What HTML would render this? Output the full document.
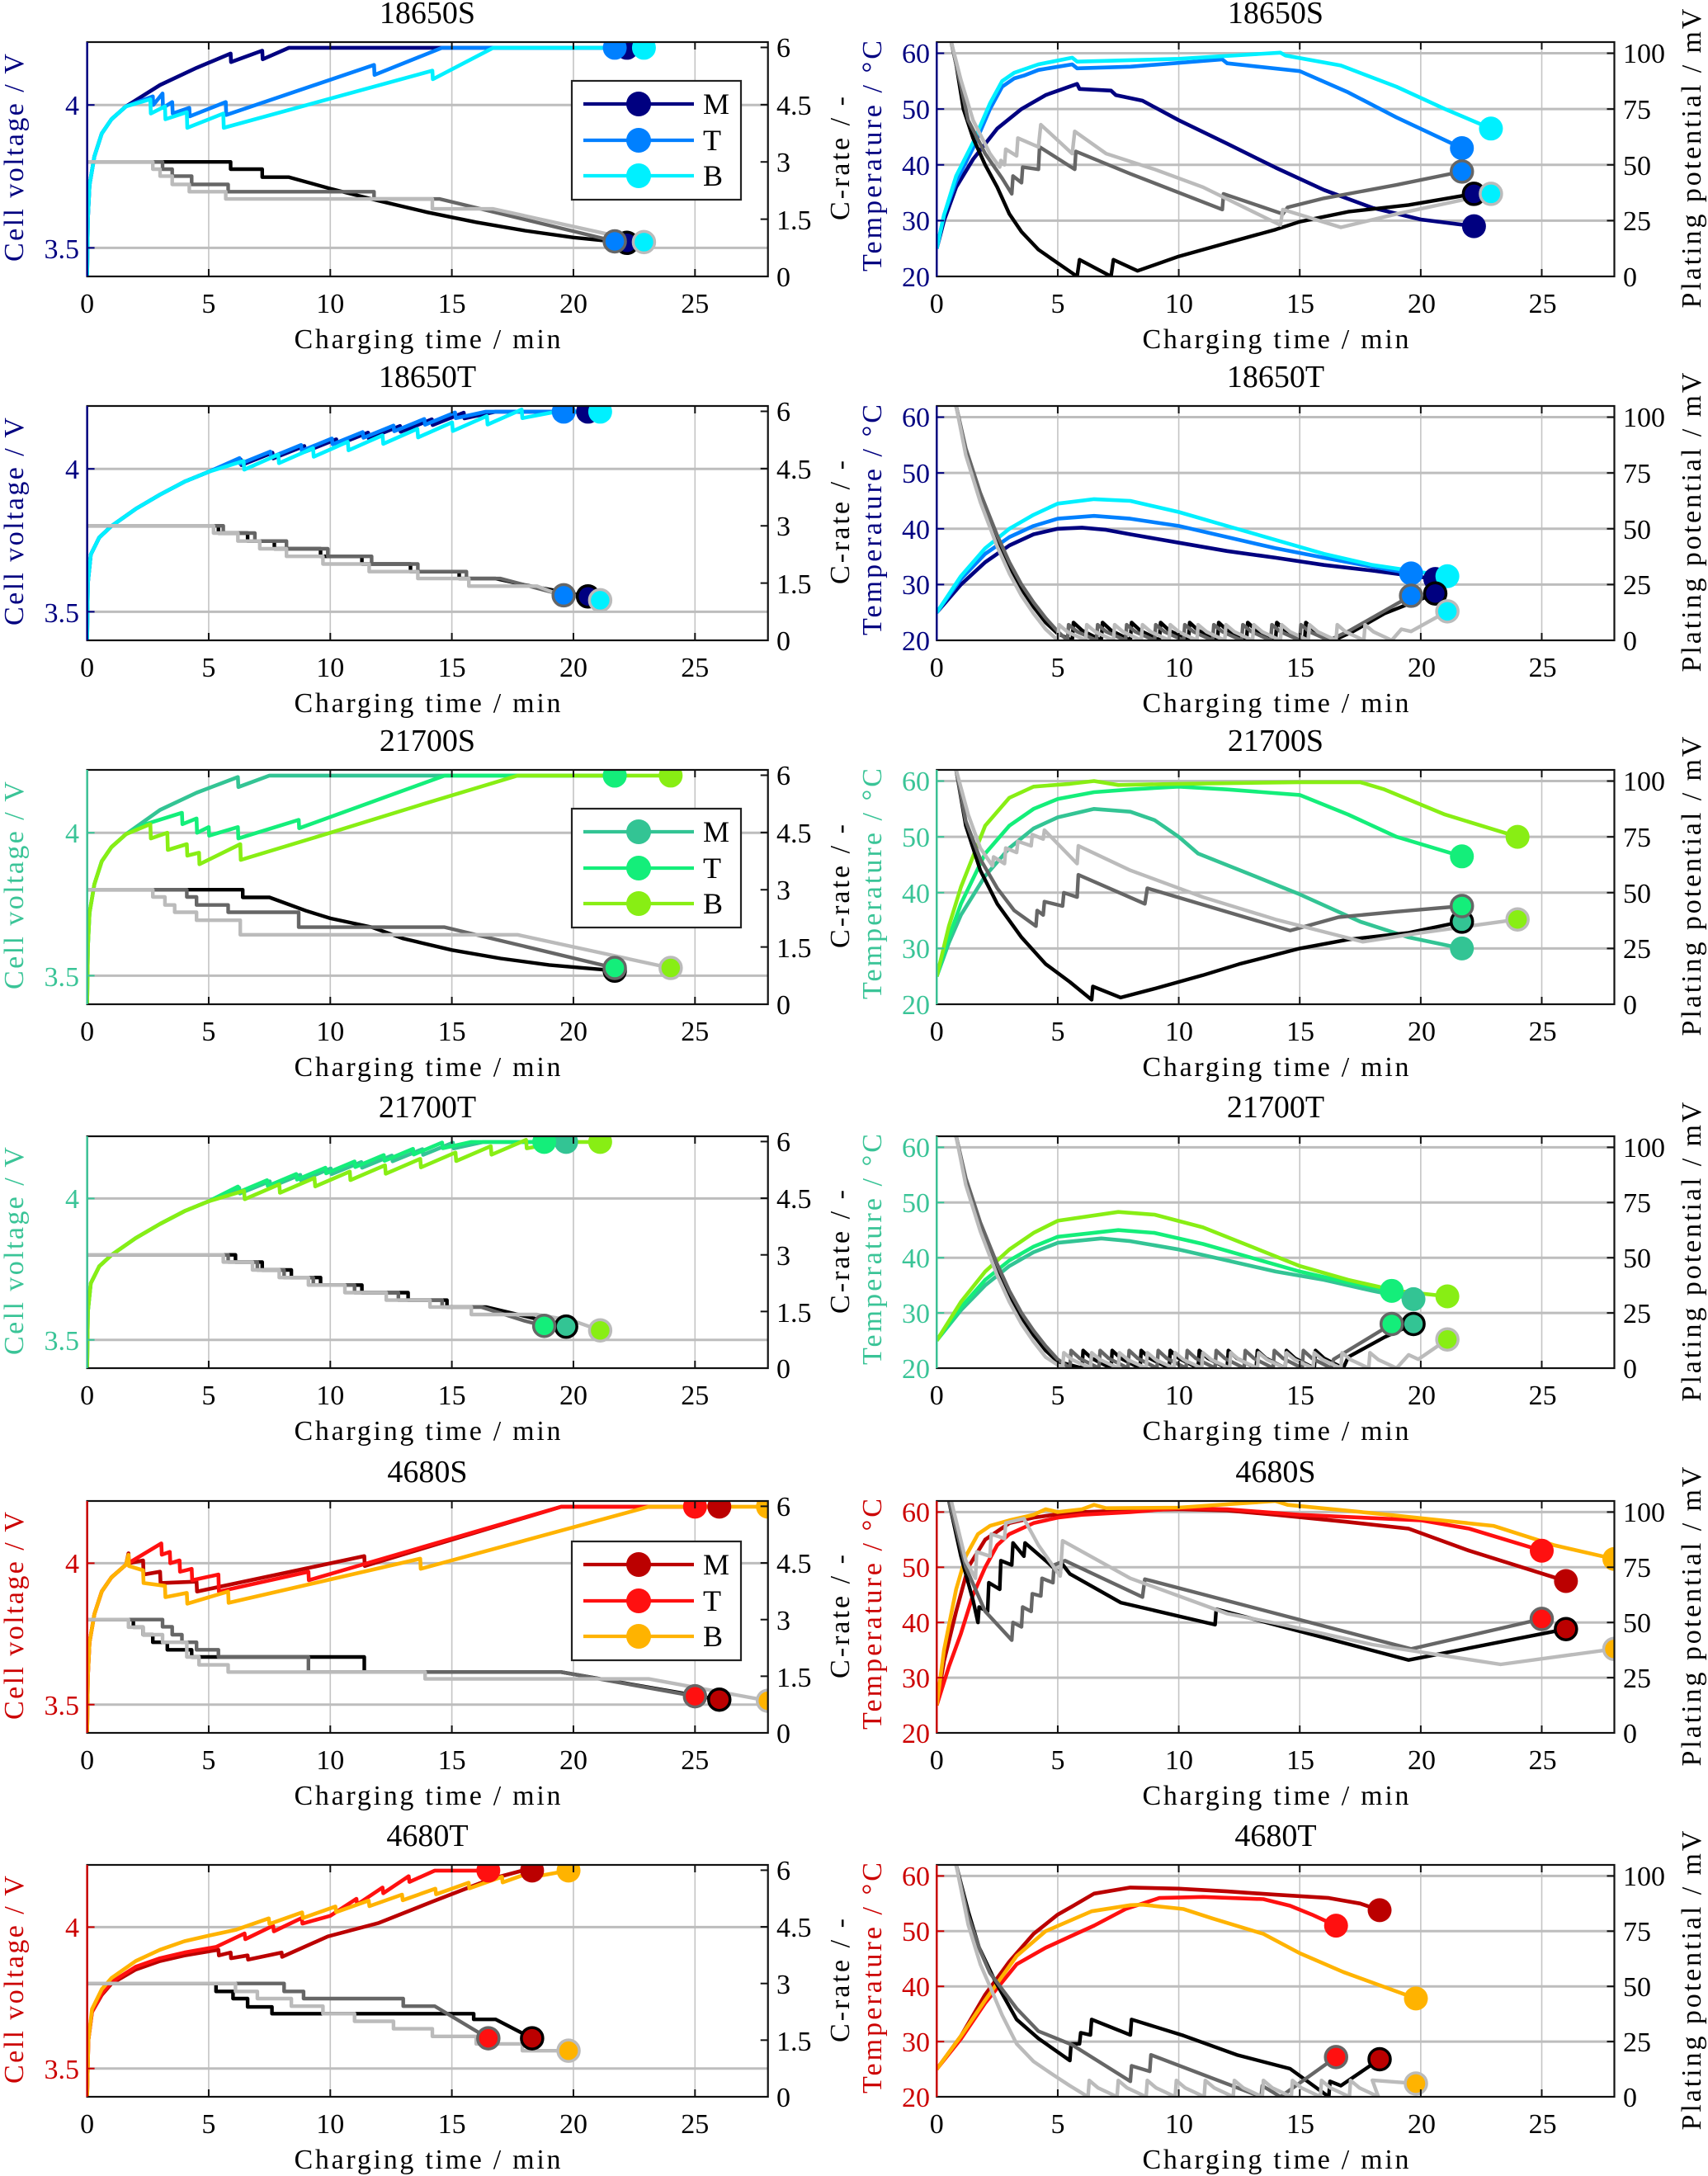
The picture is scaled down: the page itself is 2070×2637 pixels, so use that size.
<!DOCTYPE html>
<html><head><meta charset="utf-8">
<style>
html,body{margin:0;padding:0;background:#fff;}
svg{display:block;}
text{font-family:"Liberation Serif","DejaVu Serif",serif;font-size:34px;}
.ti{font-size:38px;text-anchor:middle;}
.m{text-anchor:middle;}
.e{text-anchor:end;}
.lg{font-size:36px;}
</style></head><body>
<svg id="S" xmlns="http://www.w3.org/2000/svg" width="2070" height="2637" viewBox="0 0 2070 2637">
<rect width="2070" height="2637" fill="#fff"/>
<g id="plot"></g>
<g id="txt">
<g transform="translate(0,51)">
<text class="ti" x="518" y="-23">18650S</text><text class="ti" x="1546" y="-23">18650S</text>
<g fill="#000080"><text class="e" x="96" y="88">4</text><text class="e" x="96" y="262">3.5</text>
<text class="m" transform="translate(28,140) rotate(-90)" textLength="252">Cell voltage / V</text>
<text class="e" x="1127" y="296">20</text><text class="e" x="1127" y="228">30</text><text class="e" x="1127" y="161">40</text><text class="e" x="1127" y="93">50</text><text class="e" x="1127" y="25">60</text>
<text class="m" transform="translate(1068,138) rotate(-90)" textLength="280">Temperature / °C</text></g>
<text x="941" y="296">0</text><text x="941" y="227">1.5</text><text x="941" y="157">3</text><text x="941" y="88">4.5</text><text x="941" y="18">6</text>
<text class="m" transform="translate(1029,141) rotate(-90)" textLength="150">C-rate / -</text>
<text x="1967" y="296">0</text><text x="1967" y="228">25</text><text x="1967" y="161">50</text><text x="1967" y="93">75</text><text x="1967" y="25">100</text>
<text class="m" transform="translate(2061,141) rotate(-90)" textLength="363">Plating potential / mV</text>
<text class="m" x="105.6" y="328">0</text><text class="m" x="252.9" y="328">5</text><text class="m" x="400.3" y="328">10</text><text class="m" x="547.6" y="328">15</text><text class="m" x="695" y="328">20</text><text class="m" x="842.3" y="328">25</text>
<text class="m" x="1135.3" y="328">0</text><text class="m" x="1282" y="328">5</text><text class="m" x="1429" y="328">10</text><text class="m" x="1576" y="328">15</text><text class="m" x="1723" y="328">20</text><text class="m" x="1869.6" y="328">25</text>
<text class="m" x="518" y="371" textLength="323">Charging time / min</text><text class="m" x="1546" y="371" textLength="323">Charging time / min</text>
<text class="lg" x="852" y="87">M</text><text class="lg" x="852" y="131">T</text><text class="lg" x="852" y="174">B</text>
</g>
<g transform="translate(0,492)">
<text class="ti" x="518" y="-23">18650T</text><text class="ti" x="1546" y="-23">18650T</text>
<g fill="#000080"><text class="e" x="96" y="88">4</text><text class="e" x="96" y="262">3.5</text>
<text class="m" transform="translate(28,140) rotate(-90)" textLength="252">Cell voltage / V</text>
<text class="e" x="1127" y="296">20</text><text class="e" x="1127" y="228">30</text><text class="e" x="1127" y="161">40</text><text class="e" x="1127" y="93">50</text><text class="e" x="1127" y="25">60</text>
<text class="m" transform="translate(1068,138) rotate(-90)" textLength="280">Temperature / °C</text></g>
<text x="941" y="296">0</text><text x="941" y="227">1.5</text><text x="941" y="157">3</text><text x="941" y="88">4.5</text><text x="941" y="18">6</text>
<text class="m" transform="translate(1029,141) rotate(-90)" textLength="150">C-rate / -</text>
<text x="1967" y="296">0</text><text x="1967" y="228">25</text><text x="1967" y="161">50</text><text x="1967" y="93">75</text><text x="1967" y="25">100</text>
<text class="m" transform="translate(2061,141) rotate(-90)" textLength="363">Plating potential / mV</text>
<text class="m" x="105.6" y="328">0</text><text class="m" x="252.9" y="328">5</text><text class="m" x="400.3" y="328">10</text><text class="m" x="547.6" y="328">15</text><text class="m" x="695" y="328">20</text><text class="m" x="842.3" y="328">25</text>
<text class="m" x="1135.3" y="328">0</text><text class="m" x="1282" y="328">5</text><text class="m" x="1429" y="328">10</text><text class="m" x="1576" y="328">15</text><text class="m" x="1723" y="328">20</text><text class="m" x="1869.6" y="328">25</text>
<text class="m" x="518" y="371" textLength="323">Charging time / min</text><text class="m" x="1546" y="371" textLength="323">Charging time / min</text>
</g>
<g transform="translate(0,933)">
<text class="ti" x="518" y="-23">21700S</text><text class="ti" x="1546" y="-23">21700S</text>
<g fill="#3ac497"><text class="e" x="96" y="88">4</text><text class="e" x="96" y="262">3.5</text>
<text class="m" transform="translate(28,140) rotate(-90)" textLength="252">Cell voltage / V</text>
<text class="e" x="1127" y="296">20</text><text class="e" x="1127" y="228">30</text><text class="e" x="1127" y="161">40</text><text class="e" x="1127" y="93">50</text><text class="e" x="1127" y="25">60</text>
<text class="m" transform="translate(1068,138) rotate(-90)" textLength="280">Temperature / °C</text></g>
<text x="941" y="296">0</text><text x="941" y="227">1.5</text><text x="941" y="157">3</text><text x="941" y="88">4.5</text><text x="941" y="18">6</text>
<text class="m" transform="translate(1029,141) rotate(-90)" textLength="150">C-rate / -</text>
<text x="1967" y="296">0</text><text x="1967" y="228">25</text><text x="1967" y="161">50</text><text x="1967" y="93">75</text><text x="1967" y="25">100</text>
<text class="m" transform="translate(2061,141) rotate(-90)" textLength="363">Plating potential / mV</text>
<text class="m" x="105.6" y="328">0</text><text class="m" x="252.9" y="328">5</text><text class="m" x="400.3" y="328">10</text><text class="m" x="547.6" y="328">15</text><text class="m" x="695" y="328">20</text><text class="m" x="842.3" y="328">25</text>
<text class="m" x="1135.3" y="328">0</text><text class="m" x="1282" y="328">5</text><text class="m" x="1429" y="328">10</text><text class="m" x="1576" y="328">15</text><text class="m" x="1723" y="328">20</text><text class="m" x="1869.6" y="328">25</text>
<text class="m" x="518" y="371" textLength="323">Charging time / min</text><text class="m" x="1546" y="371" textLength="323">Charging time / min</text>
<text class="lg" x="852" y="87">M</text><text class="lg" x="852" y="131">T</text><text class="lg" x="852" y="174">B</text>
</g>
<g transform="translate(0,1377)">
<text class="ti" x="518" y="-23">21700T</text><text class="ti" x="1546" y="-23">21700T</text>
<g fill="#3ac497"><text class="e" x="96" y="87">4</text><text class="e" x="96" y="259">3.5</text>
<text class="m" transform="translate(28,139) rotate(-90)" textLength="252">Cell voltage / V</text>
<text class="e" x="1127" y="293">20</text><text class="e" x="1127" y="226">30</text><text class="e" x="1127" y="159">40</text><text class="e" x="1127" y="92">50</text><text class="e" x="1127" y="25">60</text>
<text class="m" transform="translate(1068,137) rotate(-90)" textLength="280">Temperature / °C</text></g>
<text x="941" y="293">0</text><text x="941" y="225">1.5</text><text x="941" y="156">3</text><text x="941" y="87">4.5</text><text x="941" y="18">6</text>
<text class="m" transform="translate(1029,140) rotate(-90)" textLength="150">C-rate / -</text>
<text x="1967" y="293">0</text><text x="1967" y="226">25</text><text x="1967" y="159">50</text><text x="1967" y="92">75</text><text x="1967" y="25">100</text>
<text class="m" transform="translate(2061,140) rotate(-90)" textLength="363">Plating potential / mV</text>
<text class="m" x="105.6" y="325">0</text><text class="m" x="252.9" y="325">5</text><text class="m" x="400.3" y="325">10</text><text class="m" x="547.6" y="325">15</text><text class="m" x="695" y="325">20</text><text class="m" x="842.3" y="325">25</text>
<text class="m" x="1135.3" y="325">0</text><text class="m" x="1282" y="325">5</text><text class="m" x="1429" y="325">10</text><text class="m" x="1576" y="325">15</text><text class="m" x="1723" y="325">20</text><text class="m" x="1869.6" y="325">25</text>
<text class="m" x="518" y="368" textLength="323">Charging time / min</text><text class="m" x="1546" y="368" textLength="323">Charging time / min</text>
</g>
<g transform="translate(0,1819)">
<text class="ti" x="518" y="-23">4680S</text><text class="ti" x="1546" y="-23">4680S</text>
<g fill="#cc0000"><text class="e" x="96" y="87">4</text><text class="e" x="96" y="259">3.5</text>
<text class="m" transform="translate(28,139) rotate(-90)" textLength="252">Cell voltage / V</text>
<text class="e" x="1127" y="293">20</text><text class="e" x="1127" y="226">30</text><text class="e" x="1127" y="159">40</text><text class="e" x="1127" y="92">50</text><text class="e" x="1127" y="25">60</text>
<text class="m" transform="translate(1068,137) rotate(-90)" textLength="280">Temperature / °C</text></g>
<text x="941" y="293">0</text><text x="941" y="225">1.5</text><text x="941" y="156">3</text><text x="941" y="87">4.5</text><text x="941" y="18">6</text>
<text class="m" transform="translate(1029,140) rotate(-90)" textLength="150">C-rate / -</text>
<text x="1967" y="293">0</text><text x="1967" y="226">25</text><text x="1967" y="159">50</text><text x="1967" y="92">75</text><text x="1967" y="25">100</text>
<text class="m" transform="translate(2061,140) rotate(-90)" textLength="363">Plating potential / mV</text>
<text class="m" x="105.6" y="325">0</text><text class="m" x="252.9" y="325">5</text><text class="m" x="400.3" y="325">10</text><text class="m" x="547.6" y="325">15</text><text class="m" x="695" y="325">20</text><text class="m" x="842.3" y="325">25</text>
<text class="m" x="1135.3" y="325">0</text><text class="m" x="1282" y="325">5</text><text class="m" x="1429" y="325">10</text><text class="m" x="1576" y="325">15</text><text class="m" x="1723" y="325">20</text><text class="m" x="1869.6" y="325">25</text>
<text class="m" x="518" y="368" textLength="323">Charging time / min</text><text class="m" x="1546" y="368" textLength="323">Charging time / min</text>
<text class="lg" x="852" y="89">M</text><text class="lg" x="852" y="133">T</text><text class="lg" x="852" y="176">B</text>
</g>
<g transform="translate(0,2260)">
<text class="ti" x="518" y="-23">4680T</text><text class="ti" x="1546" y="-23">4680T</text>
<g fill="#cc0000"><text class="e" x="96" y="87">4</text><text class="e" x="96" y="259">3.5</text>
<text class="m" transform="translate(28,139) rotate(-90)" textLength="252">Cell voltage / V</text>
<text class="e" x="1127" y="293">20</text><text class="e" x="1127" y="226">30</text><text class="e" x="1127" y="159">40</text><text class="e" x="1127" y="92">50</text><text class="e" x="1127" y="25">60</text>
<text class="m" transform="translate(1068,137) rotate(-90)" textLength="280">Temperature / °C</text></g>
<text x="941" y="293">0</text><text x="941" y="225">1.5</text><text x="941" y="156">3</text><text x="941" y="87">4.5</text><text x="941" y="18">6</text>
<text class="m" transform="translate(1029,140) rotate(-90)" textLength="150">C-rate / -</text>
<text x="1967" y="293">0</text><text x="1967" y="226">25</text><text x="1967" y="159">50</text><text x="1967" y="92">75</text><text x="1967" y="25">100</text>
<text class="m" transform="translate(2061,140) rotate(-90)" textLength="363">Plating potential / mV</text>
<text class="m" x="105.6" y="325">0</text><text class="m" x="252.9" y="325">5</text><text class="m" x="400.3" y="325">10</text><text class="m" x="547.6" y="325">15</text><text class="m" x="695" y="325">20</text><text class="m" x="842.3" y="325">25</text>
<text class="m" x="1135.3" y="325">0</text><text class="m" x="1282" y="325">5</text><text class="m" x="1429" y="325">10</text><text class="m" x="1576" y="325">15</text><text class="m" x="1723" y="325">20</text><text class="m" x="1869.6" y="325">25</text>
<text class="m" x="518" y="368" textLength="323">Charging time / min</text><text class="m" x="1546" y="368" textLength="323">Charging time / min</text>
</g>
</g>
</svg>
<script>
(function(){
var TOP=[51,492,933,1377,1819,2260],HT=[284,284,284,281,281,281];
var X0=[105.6,1135.3],X1=[930.7,1956.5];
var LAB=['#000080','#000080','#3ac497','#3ac497','#cc0000','#cc0000'];
var COLS=[['#000080','#0080ff','#00f0ff'],['#000080','#0080ff','#00f0ff'],['#33c494','#14ee7a','#88ee14'],['#33c494','#14ee7a','#88ee14'],['#bb0000','#ff1010','#ffb300'],['#bb0000','#ff1010','#ffb300']];
var GR=['#000','#666','#bbb'];
function st(lv,tE){var p=[[lv[0][0],lv[0][1]]];for(var i=1;i<lv.length;i++){p.push([lv[i][0],lv[i-1][1]],[lv[i][0],lv[i][1]]);}p.push([tE,lv[lv.length-1][1]]);return p;}
function vs(t0,v0,t1,v1,n,d){var p=[];for(var i=1;i<=n;i++){var t=t0+i*(t1-t0)/n,v=v0+i*(v1-v0)/n;if(i<n)p.push([t,v+d],[t+0.03,v]);else p.push([t,v]);}return p;}
function ps(t0,t1,per,h){var p=[],t=t0;while(t<t1-0.3){p.push([t,0],[t+0.05,h],[t+0.05+per*0.3,h*0.55]);t+=per;}p.push([t,0]);return p;}
function c(){var a=[];for(var i=0;i<arguments.length;i++)a=a.concat(arguments[i]);return a;}
var iS=[[0,3.4],[0.03,3.6],[0.1,3.72],[0.3,3.82],[0.6,3.9],[1,3.95],[1.6,3.995]];
var iT=[[0,3.4],[0.03,3.6],[0.15,3.7],[0.5,3.76],[1,3.8],[2,3.86],[3,3.91],[4,3.955],[5,3.99]];
var D=[];
D[0]={V:[c(iS,[[3,4.07],[4.5,4.13],[5.9,4.18],[5.92,4.15],[7.2,4.19],[7.22,4.16],[8.3,4.2],[22.2,4.2]]),
c(iS,[[2.7,4.03],[2.72,4.0],[3.1,4.04],[3.12,3.99],[3.5,4.01],[3.52,3.97],[4.2,3.99],[4.22,3.96],[5.7,4.01],[5.72,3.965],[11.8,4.14],[11.82,4.105],[14.6,4.2],[21.7,4.2]]),
c(iS,[[2.6,4.02],[2.62,3.97],[3.2,3.995],[3.22,3.95],[4.1,3.975],[4.12,3.92],[5.6,3.97],[5.62,3.92],[14.2,4.12],[14.22,4.09],[16.7,4.2],[22.9,4.2]])],
C:[c(st([[0,3],[5.9,2.81],[7.2,2.6]],8.3),[[10,2.3],[12,1.98],[14,1.68],[16,1.42],[18,1.2],[20,1.02],[22.2,0.88]]),
c(st([[0,3],[3.1,2.81],[3.5,2.63],[4.3,2.41],[5.8,2.22],[11.8,2.03]],14.5),[[21.7,0.92]]),
c(st([[0,3],[2.7,2.81],[3.0,2.63],[3.5,2.41],[4.2,2.22],[5.7,2.03],[14.2,1.77]],16.7),[[22.9,0.9]])],
T:[[[0,25],[0.3,30],[0.8,36],[1.5,41],[2.5,46.5],[3.5,50],[4.5,52.5],[5.8,54.5],[5.9,53.6],[7.2,53.3],[7.4,52.5],[8.5,51.5],[10,48],[12,43.8],[14,39.5],[16,35.5],[18,32.3],[20,30.2],[22.2,29]],
[[0,25],[0.3,31],[0.8,37],[1.5,43],[2.2,50],[2.7,54],[3.2,55.5],[3.6,56],[4.2,57],[5.6,58],[5.8,57.3],[8,57.6],[11.8,58.9],[12,58.2],[15,56.8],[17,53],[19,48.5],[21.7,43]],
[[0,25],[0.3,31],[0.8,38],[1.5,44],[2.2,51],[2.7,55],[3.2,56.5],[4.2,58],[5.6,59.2],[5.8,58.5],[10,59],[14.2,60.1],[14.4,59.6],[16.7,57.8],[19,54],[21,50],[22.9,46.5]]],
P:[[[0.6,105],[0.8,95],[1.1,75],[1.5,62],[2,50],[2.5,40],[3,28],[3.5,20],[4.2,12],[5,6],[5.8,0],[5.9,7.5],[7.2,0],[7.3,7.5],[8.3,2.5],[10,9],[12,15],[14,21],[15,24.5],[17,29],[19.5,32],[22.2,37]],
[[0.6,105],[0.9,90],[1.3,70],[2,55],[2.7,44],[3.1,37],[3.15,45],[3.5,42],[3.55,49],[4.2,48],[4.25,58],[5.7,48],[5.75,56],[8,46],[11.8,30],[11.85,37],[14.3,28],[14.5,31],[16,35],[19,41],[21.7,47]],
[[0.6,105],[1,88],[1.5,70],[2.2,55],[2.6,49],[2.65,52],[2.8,50],[2.85,57],[3.3,54],[3.35,62],[4.2,58],[4.3,68],[5.6,55],[5.7,65],[7,55],[9,48],[11,40],[14.2,23],[14.3,30],[16.7,22],[19,28],[22.9,37]]]};
D[1]={V:[c(iT,vs(5,3.99,16.8,4.2,9,0.02),[[20.6,4.2]]),c(iT,vs(5,3.995,16.4,4.2,9,0.02),[[19.6,4.2]]),c(iT,vs(5,3.975,19.3,4.2,10,0.03),[[21.1,4.2]])],
C:[c(st([[0,3],[5.4,2.81],[6.6,2.6],[7.7,2.4],[9.6,2.2],[11.3,2.0],[13.3,1.8],[15.3,1.62]],16.8),[[18,1.45],[20.6,1.15]]),
c(st([[0,3],[5.6,2.81],[6.9,2.6],[8.2,2.4],[9.9,2.2],[11.7,2.0],[13.6,1.8],[15.6,1.62]],17),[[19.6,1.18]]),
c(st([[0,3],[5.2,2.81],[6.2,2.6],[7.1,2.4],[8.2,2.2],[9.7,2.0],[11.6,1.8],[13.6,1.62],[15.7,1.42]],18.5),[[19.2,1.25],[21.1,1.05]])],
T:[[[0,25],[1,30],[2,34],[3,37],[4,39],[5,40],[6,40.2],[7,39.8],[8,39],[10,37.5],[12,36],[14,34.8],[16,33.5],[18,32.5],[20.6,31]],
[[0,25],[1,31],[2,35.5],[3,38.5],[4,40.5],[5,41.8],[6.5,42.3],[8,41.8],[10,40.5],[12,38.5],[14,36.5],[16,34.8],[18,33.2],[19.6,32]],
[[0,25],[1,31.5],[2,36.5],[3,40],[4,42.5],[5,44.5],[6.5,45.3],[8,45],[10,43],[12,40.5],[14,38],[16,35.5],[18,33.5],[21.1,31.5]]],
P:[c([[0.8,105],[1.2,85],[1.8,65],[2.5,45],[3,33],[3.5,23],[4,15],[4.5,8],[5,3],[5.6,0]],ps(5.6,16.4,1.2,8),[[17.2,4],[18.5,12],[20.6,21]]),
c([[0.8,105],[1.2,86],[1.8,66],[2.5,47],[3,35],[3.5,25],[4,17],[4.5,10],[5,4],[5.4,0]],ps(5.4,15.6,1.2,7),[[17,4],[19.6,20]]),
c([[0.8,105],[1.2,83],[1.8,62],[2.5,42],[3,30],[3.5,20],[4,12],[4.5,5],[5,0]],ps(5,18.5,1.15,7),[[19.2,5],[19.6,4],[21.1,13]])]};
D[2]={V:[c(iS,[[3,4.08],[4.5,4.14],[6.2,4.195],[6.22,4.16],[7.5,4.2],[21.7,4.2]]),
c(iS,[[2.4,4.03],[3.9,4.07],[3.92,4.03],[4.5,4.05],[4.52,4.0],[5,4.02],[5.02,3.99],[6.2,4.02],[6.22,3.98],[8.7,4.045],[8.72,4.016],[14.7,4.2],[21.7,4.2]]),
c(iS,[[2.6,4.03],[2.62,3.98],[3.3,4.0],[3.32,3.94],[4.1,3.96],[4.12,3.92],[4.6,3.93],[4.62,3.89],[6.3,3.96],[6.32,3.905],[10,4.0],[13.8,4.1],[17.7,4.2],[24,4.2]])],
C:[c(st([[0,3],[6.4,2.8]],7.5),[[9,2.45],[10,2.25],[11.7,2.02],[13,1.72],[15,1.42],[17,1.2],[19,1.03],[21.7,0.88]]),
c(st([[0,3],[4.1,2.81],[4.5,2.6],[5.8,2.41],[8.7,2.02]],14.7),[[21.7,0.95]]),
c(st([[0,3],[2.7,2.81],[3.2,2.6],[3.6,2.41],[4.5,2.2],[6.3,1.82]],17.7),[[24,0.95]])],
T:[[[0,25],[0.5,31],[1,36],[2,43],[3,48],[4,51.5],[5,53.5],[6.5,55],[8,54.5],[9,53],[10,50],[10.8,47],[13,43.2],[15,39.7],[17.5,34.8],[19.5,32],[21.7,30]],
[[0,25],[0.5,32],[1,38],[2,47],[3,52],[4,55],[5,56.8],[6.5,58],[8,58.5],[10,59],[12,58.5],[15,57.5],[17,54],[19,50],[21.7,46.5]],
[[0,25],[0.5,34],[1,41],[2,52],[3,57],[4,59],[5.5,59.5],[6.5,60],[7.5,59.3],[10,59.5],[15,59.8],[17.5,59.8],[18.5,58.5],[21,54],[24,50]]],
P:[[[0.8,105],[1.2,80],[1.8,60],[2.5,45],[3.5,30],[4.5,18],[5.5,10],[6.4,2],[6.45,8],[7.6,3],[9,7],[11,13],[12.5,18],[15,25],[17,29],[19.5,32],[21.7,37]],
[[0.8,105],[1.2,82],[1.8,65],[2.5,52],[3.2,42],[4.1,35],[4.15,42],[4.4,40],[4.45,46],[5.2,44],[5.25,50],[5.8,48],[5.85,58],[8.6,45],[8.7,52],[14.6,33],[16.6,39],[19,41.5],[21.7,44]],
[[0.8,105],[1.3,85],[1.8,70],[2.3,62],[2.35,66],[2.8,63],[2.85,70],[3.3,68],[3.35,73],[3.9,71],[3.95,76],[4.4,74],[4.45,78],[5.8,63],[5.85,71],[8,60],[11,48],[14,38],[17.6,28],[20,32],[24,38]]]};
D[3]={V:[c(iT,vs(5,3.995,16.3,4.2,9,0.02),[[19.7,4.2]]),c(iT,vs(5,4.0,15.8,4.2,9,0.02),[[18.8,4.2]]),c(iT,vs(5,3.975,19.5,4.2,10,0.03),[[21.1,4.2]])],
C:[c(st([[0,3],[6.1,2.81],[7.2,2.6],[8.4,2.4],[9.6,2.2],[11.3,2.0],[13.2,1.8],[14.8,1.62]],16.4),[[18.5,1.3],[19.7,1.1]]),
c(st([[0,3],[5.8,2.81],[7,2.6],[8.1,2.4],[9.3,2.2],[11,2.0],[12.8,1.8],[14.6,1.62]],16.2),[[18,1.25],[18.8,1.12]]),
c(st([[0,3],[5.6,2.81],[6.8,2.6],[7.9,2.4],[9.1,2.2],[10.6,2.0],[12.3,1.8],[14.1,1.62],[15.8,1.42]],18.5),[[20,1.25],[21.1,1.0]])],
T:[[[0,25],[1,30.5],[2,35],[3,38.5],[4,41],[5,42.7],[6.8,43.5],[8,43],[10,41.5],[12,39.5],[14,37.5],[16,36],[18,34],[19.7,32.5]],
[[0,25],[1,31],[2,36],[3,39.5],[4,42],[5,43.8],[7.5,45],[9,44.5],[11,42.5],[13,40],[15,37.5],[17,35.5],[18.8,34]],
[[0,25],[1,32],[2,37.5],[3,41.5],[4,44.5],[5,46.7],[7.5,48.3],[9,47.8],[11,45.5],[13,42],[15,38.5],[17,36],[19,34],[21.1,33]]],
P:[c([[0.8,105],[1.2,85],[1.8,65],[2.5,45],[3,33],[3.5,23],[4,15],[4.5,8],[5,3],[6.0,0]],ps(6.0,16.2,1.2,8),[[17,5],[18.5,14],[19.7,20]]),
c([[0.8,105],[1.2,86],[1.8,66],[2.5,47],[3,35],[3.5,25],[4,17],[4.5,10],[5,4],[5.5,0]],ps(5.5,15.6,1.2,8),[[16.4,4],[18.8,20]]),
c([[0.8,105],[1.2,83],[1.8,62],[2.5,42],[3,30],[3.5,20],[4,12],[4.5,5],[5.2,0]],ps(5.2,18.5,1.15,7),[[19.5,6],[19.9,4],[21.1,13]])]};
D[4]={V:[c(iS,[[1.7,4.035],[1.72,4.0],[2.3,4.01],[2.32,3.96],[3.0,3.97],[3.02,3.93],[4.5,3.935],[4.52,3.9],[11.4,4.025],[11.42,3.99],[19.5,4.2],[26,4.2]]),
c(iS,[[3.05,4.07],[3.07,4.03],[3.4,4.04],[3.42,4.0],[3.8,4.01],[3.82,3.97],[4.3,3.98],[4.32,3.94],[5.4,3.96],[5.42,3.9],[9.1,3.97],[9.12,3.94],[19.5,4.2],[25,4.2]]),
c(iS,[[1.7,4.03],[1.72,3.99],[2.3,3.975],[2.32,3.93],[3.2,3.92],[3.22,3.88],[4.1,3.895],[4.12,3.857],[5.8,3.9],[5.82,3.86],[13.7,4.016],[13.72,3.98],[23.1,4.2],[28,4.2]])],
C:[c(st([[0,3],[1.9,2.8],[2.3,2.6],[2.7,2.4],[3.3,2.2],[4.3,2.01],[11.4,1.61]],19.5),[[26,0.88]]),
c(st([[0,3],[3.1,2.81],[3.5,2.6],[3.9,2.4],[4.5,2.2],[5.4,2.01],[9.1,1.61]],19.5),[[25,0.97]]),
c(st([[0,3],[1.7,2.8],[2.3,2.6],[3.1,2.4],[4.1,2.01],[4.6,1.8],[5.8,1.61],[13.9,1.43]],23.1),[[28,0.85]])],
T:[[[0,25],[0.3,33],[0.8,42],[1.3,50],[2,55],[3,58],[4,59],[5,59.6],[6,60],[8,60.3],[10,60.5],[12,60.3],[14,59.5],[17,58.2],[19.5,57],[22,53],[26,47.5]],
[[0,25],[0.5,32],[1,38],[1.5,45],[2,50],[2.5,54],[3,56],[4,58],[5,59],[6,59.5],[8,60],[10,60.7],[12,60.5],[15,59.5],[20,58.5],[22,57],[25,53]],
[[0,25],[0.3,35],[0.8,46],[1.2,52],[1.7,56],[2.2,57.5],[3,58.5],[4,59.5],[4.5,60.5],[5,60],[6,60.5],[6.5,61.3],[7,60.7],[10,60.8],[14,62],[14.5,61.3],[18,59.8],[23,57.5],[25.5,54],[28,51.5]]],
P:[[[0.5,105],[1,80],[1.5,60],[1.7,50],[1.75,57],[2.1,55],[2.15,68],[2.6,65],[2.65,78],[3.1,76],[3.15,86],[3.6,80],[3.65,86],[4.5,78],[5.1,72],[5.15,77],[5.5,72],[7.6,59],[11.5,49],[11.55,56],[19.5,33],[26,47]],
[[0.5,105],[1.2,75],[2,55],[3.1,42],[3.15,50],[3.5,48],[3.55,57],[3.9,55],[3.95,63],[4.3,62],[4.35,70],[4.8,68],[4.85,76],[5.3,78],[8.5,61.5],[8.6,69.6],[19.6,38],[25,51.6]],
[[0.6,105],[1.2,78],[1.6,70],[1.65,82],[2.2,80],[2.25,90],[2.8,88],[2.85,95],[3.6,97],[4.2,85],[5.1,71],[5.2,87],[8,70],[12,54],[14.3,49],[18,40],[23.3,31],[28,38]]]};
var i6=[[0,3.4],[0.05,3.6],[0.2,3.7],[0.6,3.76],[1,3.8],[2,3.85],[3,3.88],[4,3.9]];
D[5]={V:[c(i6,[[5.4,3.92],[5.42,3.9],[5.9,3.91],[5.92,3.89],[6.6,3.9],[6.62,3.885],[8.0,3.91],[8.02,3.895],[9.9,3.967],[12,4.015],[14.2,4.09],[16.6,4.17],[17.9,4.2],[18.3,4.2]]),
c([[0,3.4],[0.05,3.6],[0.2,3.7],[0.6,3.765],[1,3.805],[2,3.86],[3,3.89],[4,3.91],[5.3,3.93]],vs(5.3,3.93,10,4.04,4,0.02),vs(10,4.04,14.3,4.2,4,0.02),[[16.5,4.2]]),
c([[0,3.4],[0.05,3.6],[0.2,3.71],[0.6,3.78],[1,3.82],[2,3.88],[3,3.92],[4,3.95],[5,3.97],[6.1,3.99]],vs(6.1,3.99,19.8,4.2,10,0.02))],
C:[c(st([[0,3],[5.3,2.79],[6.0,2.6],[6.6,2.38],[7.6,2.2],[15.9,2.05]],16.8),[[18.3,1.55]]),
c(st([[0,3],[8.1,2.79],[8.9,2.6],[13.0,2.4]],14.3),[[16.5,1.55]]),
st([[0,3],[6.1,2.79],[7.0,2.6],[8.4,2.4],[9.7,2.2],[11.0,2.0],[12.6,1.8],[14.2,1.6],[16.0,1.4],[17.9,1.22]],19.8)],
T:[[[0,25],[1,31],[2,38.5],[3,44.5],[4,49.5],[5,53],[5.6,54.5],[6.5,56.8],[8,57.9],[10,57.7],[12,57.2],[14,56.6],[16.2,56],[17.5,55],[18.3,53.8]],
[[0,25],[1,30.5],[2,37],[3.3,44],[4.5,47],[5.6,49.2],[6.5,51],[7.8,54],[9.2,56],[11,56.2],[13.5,55.8],[14.6,54.6],[15.5,53],[16.5,51]],
[[0,25],[1,31],[2,37.5],[3.3,45.5],[4.5,50],[6.4,53.6],[8,54.7],[8.5,54.8],[10.2,54],[11.4,52.3],[13.5,49.5],[15,46],[16.8,42.6],[19.8,37.8]]],
P:[[[0.8,105],[1.3,84],[1.75,67.6],[2.4,52.6],[3.3,35],[4.2,26.4],[5.5,16.4],[5.55,24],[5.9,24],[5.95,29],[6.35,28],[6.4,35],[8.0,28],[8.05,35],[10.2,27.7],[12.4,19],[14.6,12.7],[16.2,0],[16.25,7],[16.7,5],[18.3,17]],
[[0.8,105],[1.3,82],[1.8,66],[2.2,56],[3.3,40],[4.2,29.7],[5.6,23.5],[8,7],[8.05,14],[8.8,11.5],[8.85,19],[13.4,0],[13.45,5],[14.2,0],[16.5,18]],
c([[0.8,105],[1.3,78],[1.8,60],[2.2,50],[2.7,37],[3.3,24],[4,16],[4.8,10],[5.5,5],[6.25,0]],ps(6.25,17.9,1.2,7.4),[[18,7.5],[19.8,6]])]};

var NS='http://www.w3.org/2000/svg',root=document.getElementById('plot'),defs=document.createElementNS(NS,'defs');root.appendChild(defs);
function el(tag,at,par){var e=document.createElementNS(NS,tag);for(var k in at)e.setAttribute(k,at[k]);(par||root).appendChild(e);return e;}
for(var r=0;r<6;r++){
 var top=TOP[r],h=HT[r],d=D[r],col=COLS[r];
 for(var s=0;s<2;s++){
  var x0=X0[s],x1=X1[s];
  var cid='cp'+r+s;var cp=el('clipPath',{id:cid},defs);el('rect',{x:x0,y:top,width:x1-x0,height:h},cp);
  var g=el('g',{'clip-path':'url(#'+cid+')'});
  var rL=s?[20,62]:[3.4,4.22],rR=s?[0,105]:[0,6.14];
  (function(x0,x1,top,h){
  var fx=function(t){return x0+(x1-x0)*t/28;};
  var fy=function(v,rg){return top+h*(rg[1]-v)/(rg[1]-rg[0]);};
  for(var t=5;t<=25;t+=5)el('line',{x1:fx(t),x2:fx(t),y1:top,y2:top+h,stroke:'#c4c4c4','stroke-width':1.6},g);
  var hg=s?[30,40,50,60]:[3.5,4];
  hg.forEach(function(v){el('line',{x1:x0,x2:x1,y1:fy(v,rL),y2:fy(v,rL),stroke:'#bdbdbd','stroke-width':3},g);});
  function path(pts,rg,stroke,w){var sd='';pts.forEach(function(p,i){sd+=(i?'L':'M')+fx(p[0]).toFixed(1)+' '+fy(p[1],rg).toFixed(1);});el('path',{d:sd,fill:'none',stroke:stroke,'stroke-width':w,'stroke-linejoin':'round'},g);}
  var A=s?d.T:d.V,B=s?d.P:d.C;
  for(var i=0;i<3;i++)path(A[i],rL,col[i],4.6);
  for(var i=0;i<3;i++)path(B[i],rR,GR[i],4.4);
  for(var i=0;i<3;i++){var p=A[i][A[i].length-1];el('circle',{cx:fx(p[0]),cy:fy(p[1],rL),r:14.5,fill:col[i]},g);}
  for(var i=0;i<3;i++){var p=B[i][B[i].length-1];el('circle',{cx:fx(p[0]),cy:fy(p[1],rR),r:13,fill:col[i],stroke:GR[i],'stroke-width':3.5},g);}
  el('rect',{x:x0,y:top,width:x1-x0,height:h,fill:'none',stroke:'#111','stroke-width':2.2});
  el('line',{x1:x0,x2:x0,y1:top,y2:top+h,stroke:LAB[r],'stroke-width':2.4});
  for(var t=5;t<=25;t+=5){el('line',{x1:fx(t),x2:fx(t),y1:top+h,y2:top+h-9,stroke:'#111','stroke-width':2});el('line',{x1:fx(t),x2:fx(t),y1:top,y2:top+9,stroke:'#111','stroke-width':2});}
  hg.forEach(function(v){el('line',{x1:x0,x2:x0+9,y1:fy(v,rL),y2:fy(v,rL),stroke:LAB[r],'stroke-width':2});});
  var rt=s?[0,25,50,75,100]:[0,1.5,3,4.5,6];
  rt.forEach(function(v){el('line',{x1:x1,x2:x1-9,y1:fy(v,rR),y2:fy(v,rR),stroke:'#111','stroke-width':2});});
  })(x0,x1,top,h);
 }
 if(r%2==0){
  var lt=top+(r==4?49:47);
  el('rect',{x:693,y:lt,width:205,height:144,fill:'#fff',stroke:'#222','stroke-width':2.2});
  [28,72,115].forEach(function(dy,i){el('line',{x1:707,x2:841,y1:lt+dy,y2:lt+dy,stroke:col[i],'stroke-width':4.2});el('circle',{cx:774,cy:lt+dy,r:15,fill:col[i]});});
 }
}
})();
</script>
</body></html>
